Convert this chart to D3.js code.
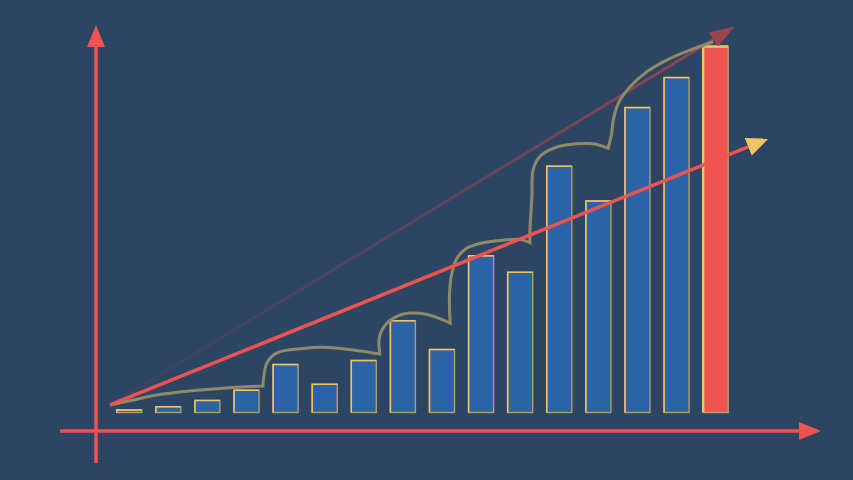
<!DOCTYPE html>
<html>
<head>
<meta charset="utf-8">
<script src="https://cdn.jsdelivr.net/npm/d3@7"></script>
<style>
  html, body { margin: 0; padding: 0; background: #2c4562; overflow: hidden; }
  svg { display: block; }
</style>
</head>
<body>
<script>
  // data (value scale: tallest bar = 100)
  const periods = ['1', '2', '3', '4', '5', '6', '7', '8', '9', '10', '11', '12', '13', '14', '15', '16'];
  const values = [0.7, 1.6, 3.3, 6.1, 13.1, 7.7, 14.2, 25.1, 17.2, 42.8, 38.3, 67.3, 57.8, 83.3, 91.5, 100];

  // trend lines, [position in bar slots, value]
  const trendMain = [[-0.17, 2.05], [16.15, 72.6]];
  const trendFaded = [[-0.17, 2.05], [15.26, 101.9]];

  // the scalloped growth curve, one array per scallop
  const growthCurve = [
    [[-0.17, 2.05], [0.42, 3.42], [1.03, 4.78], [1.87, 5.87], [2.72, 6.61], [3.74, 7.24]],
    [[3.74, 7.24], [3.84, 13.5], [4.10, 16.3], [4.77, 17.5], [5.28, 17.8], [6.04, 17.1], [6.73, 16.0]],
    [[6.73, 16.0], [6.72, 20.7], [6.91, 24.4], [7.33, 26.9], [7.76, 27.1], [8.18, 26.0], [8.53, 24.4]],
    [[8.53, 24.4], [8.51, 31.6], [8.57, 38.0], [8.70, 42.1], [8.95, 44.9], [9.38, 46.4], [9.89, 47.1], [10.31, 47.3], [10.57, 46.4]],
    [[10.57, 46.4], [10.57, 49.9], [10.62, 59.0], [10.65, 66.3], [10.82, 69.9], [11.17, 72.2], [11.76, 73.4], [12.19, 73.4], [12.57, 72.2]],
    [[12.57, 72.2], [12.66, 76.3], [12.70, 79.9], [12.83, 84.5], [13.13, 89.0], [13.56, 93.1], [14.07, 96.3], [14.66, 99.0], [15.26, 101.3]]
  ];

  const width = 853;
  const height = 480;
  const axisX = 96;
  const axisY = 431;

  const blue = '#2b63a7';
  const red = '#ef5350';
  const yellow = '#f2c365';

  const x = d3.scaleBand().domain(periods).range([116.7, 728.2]).paddingInner(0.36).paddingOuter(0);
  const xPos = d3.scaleLinear().domain([0, periods.length]).range([116.7, 116.7 + x.step() * periods.length]);
  const y = d3.scaleLinear().domain([0, 100]).range([412.5, 46.5]);

  const svg = d3.select('body').append('svg')
    .attr('width', width)
    .attr('height', height);

  svg.append('rect').attr('width', width).attr('height', height).attr('fill', '#2c4562');

  const defs = svg.append('defs');

  const marker = (id, len, wid, color, opacity) => {
    defs.append('marker')
      .attr('id', id)
      .attr('markerUnits', 'userSpaceOnUse')
      .attr('viewBox', `0 0 ${len} ${wid}`)
      .attr('markerWidth', len)
      .attr('markerHeight', wid)
      .attr('refX', 0)
      .attr('refY', wid / 2)
      .attr('orient', 'auto')
      .append('path')
      .attr('d', `M0,0L${len},${wid / 2}L0,${wid}Z`)
      .attr('fill', color)
      .attr('fill-opacity', opacity);
  };
  marker('axis-head', 22, 18, red, 1);
  marker('main-head', 22, 19, yellow, 1);
  marker('faded-head', 25, 17, '#a8454f', 0.9);

  // fade for the upper trend line
  const fade = defs.append('linearGradient')
    .attr('id', 'fade')
    .attr('gradientUnits', 'userSpaceOnUse')
    .attr('x1', xPos(trendFaded[0][0])).attr('y1', y(trendFaded[0][1]))
    .attr('x2', xPos(trendFaded[1][0])).attr('y2', y(trendFaded[1][1]));
  fade.append('stop').attr('offset', 0).attr('stop-color', '#8a3f5a').attr('stop-opacity', 0.1);
  fade.append('stop').attr('offset', 0.5).attr('stop-color', '#8f4258').attr('stop-opacity', 0.45);
  fade.append('stop').attr('offset', 1).attr('stop-color', '#a8454f').attr('stop-opacity', 0.85);

  // bars
  const bars = svg.append('g');
  bars.selectAll('rect')
    .data(values)
    .join('rect')
    .attr('x', (d, i) => x(periods[i]))
    .attr('y', (d) => y(d))
    .attr('width', x.bandwidth())
    .attr('height', (d) => y(0) - y(d))
    .attr('fill', (d, i) => (i === values.length - 1 ? red : blue))
    .attr('stroke', '#b59c6b')
    .attr('stroke-width', 1.4);

  // yellow highlight on left and top edges
  bars.selectAll('path')
    .data(values)
    .join('path')
    .attr('d', (d, i) => {
      const x0 = x(periods[i]);
      return `M${x0},${y(0)}V${y(d)}H${x0 + x.bandwidth()}`;
    })
    .attr('fill', 'none')
    .attr('stroke', yellow)
    .attr('stroke-width', (d, i) => (i === values.length - 1 ? 2.5 : 1.5));

  // axes
  svg.append('line')
    .attr('x1', axisX).attr('y1', 463)
    .attr('x2', axisX).attr('y2', 47)
    .attr('stroke', red).attr('stroke-width', 3.5)
    .attr('marker-end', 'url(#axis-head)');
  svg.append('line')
    .attr('x1', 60).attr('y1', axisY)
    .attr('x2', 799).attr('y2', axisY)
    .attr('stroke', red).attr('stroke-width', 3.5)
    .attr('marker-end', 'url(#axis-head)');

  const line = d3.line()
    .x((d) => xPos(d[0]))
    .y((d) => y(d[1]));

  // faded upper trend
  svg.append('path')
    .attr('d', line(trendFaded))
    .attr('fill', 'none')
    .attr('stroke', 'url(#fade)')
    .attr('stroke-width', 3)
    .attr('marker-end', 'url(#faded-head)');

  // scalloped curve: join the pieces with sharp corners
  const curveLine = d3.line()
    .x((d) => xPos(d[0]))
    .y((d) => y(d[1]))
    .curve(d3.curveCatmullRom.alpha(0.5));
  const curvePath = growthCurve
    .map((seg, i) => (i === 0 ? curveLine(seg) : curveLine(seg).replace(/^M/, 'L')))
    .join('');
  svg.append('path')
    .attr('d', curvePath)
    .attr('fill', 'none')
    .attr('stroke', '#8e8a68')
    .attr('stroke-width', 3)
    .attr('stroke-linejoin', 'miter');

  // main trend
  svg.append('path')
    .attr('d', line(trendMain))
    .attr('fill', 'none')
    .attr('stroke', red)
    .attr('stroke-width', 3.5)
    .attr('marker-end', 'url(#main-head)');
</script>
</body>
</html>
